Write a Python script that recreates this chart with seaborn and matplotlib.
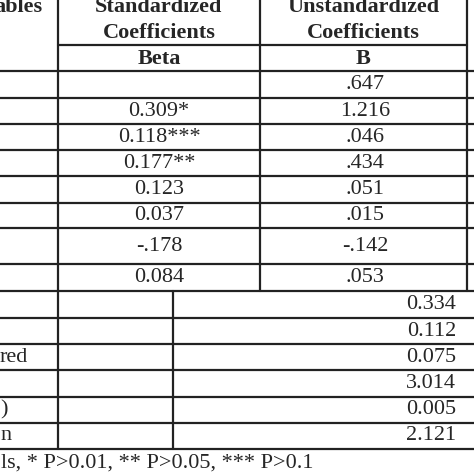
import matplotlib
matplotlib.use('Agg')
import matplotlib.pyplot as plt
import seaborn as sns

sns.set_style('white')
plt.rcParams['font.family'] = ['Liberation Serif', 'DejaVu Serif']

# table content (cropped view of a regression table)
beta_vals = ['', '0.309*', '0.118***', '0.177**', '0.123', '0.037', '-.178', '0.084']
b_vals = ['.647', '1.216', '.046', '.434', '.051', '.015', '-.142', '.053']
stat_labels = ['', '', 'red', '', ')', 'n']
stat_vals = ['0.334', '0.112', '0.075', '3.014', '0.005', '2.121']
footnote = 'ls, * P>0.01, ** P>0.05, *** P>0.1'

# row boundaries in pixels
coef_rows = [71, 98, 124, 150, 176, 203, 228, 264, 291]
stat_rows = [291, 318, 344, 370, 397, 423, 449]

fig = plt.figure(figsize=(4.74, 4.74), dpi=100)
ax = fig.add_axes([0, 0, 1, 1])
ax.set_xlim(0, 474)
ax.set_ylim(474, 0)
ax.axis('off')

lc = '#222222'
lw = 1.6
fs = 16

# header
ax.text(42, 7, 'ables', ha='right', va='center', fontsize=fs, fontweight='bold')
ax.text(159, 7, 'Standardized', ha='center', va='center', fontsize=fs, fontweight='bold')
ax.text(159, 33, 'Coefficients', ha='center', va='center', fontsize=fs, fontweight='bold')
ax.text(363, 7, 'Unstandardized', ha='center', va='center', fontsize=fs, fontweight='bold')
ax.text(363, 33, 'Coefficients', ha='center', va='center', fontsize=fs, fontweight='bold')
ax.text(159, 59, 'Beta', ha='center', va='center', fontsize=fs, fontweight='bold')
ax.text(363, 59, 'B', ha='center', va='center', fontsize=fs, fontweight='bold')

# header lines
ax.plot([58, 467], [45, 45], color=lc, lw=lw)
ax.plot([0, 474], [71, 71], color=lc, lw=lw)
for x in [58, 260, 467]:
    ax.plot([x, x], [0, 291], color=lc, lw=lw)

# coefficient rows
for i, (bv, bb) in enumerate(zip(beta_vals, b_vals)):
    y = (coef_rows[i] + coef_rows[i + 1]) / 2
    ax.text(159, y, bv, ha='center', va='center', fontsize=fs)
    ax.text(365, y, bb, ha='center', va='center', fontsize=fs)
for y in coef_rows[1:]:
    ax.plot([0, 474], [y, y], color=lc, lw=lw)

# model statistics rows
for x in [58, 173]:
    ax.plot([x, x], [291, 449], color=lc, lw=lw)
for i, (lab, val) in enumerate(zip(stat_labels, stat_vals)):
    y = (stat_rows[i] + stat_rows[i + 1]) / 2
    ax.text(0, y, lab, ha='left', va='center', fontsize=fs)
    ax.text(456, y, val, ha='right', va='center', fontsize=fs)
for y in stat_rows[1:]:
    ax.plot([0, 474], [y, y], color=lc, lw=lw)

ax.text(1, 463, footnote, ha='left', va='center', fontsize=fs)

fig.savefig('out.png', dpi=100)
